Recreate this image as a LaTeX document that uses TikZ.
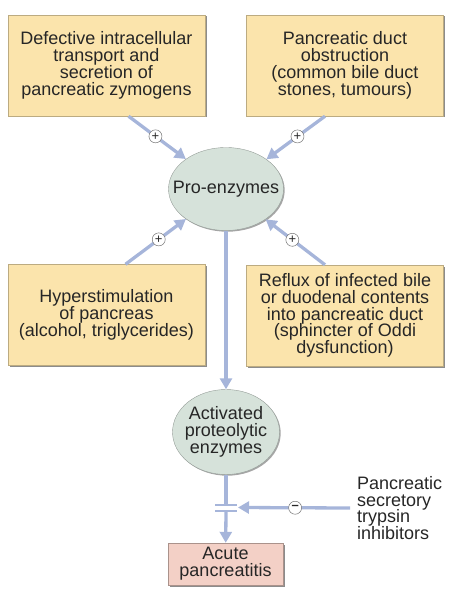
\documentclass[tikz,border=0pt]{standalone}
\usepackage{fontspec}
\setmainfont{Liberation Sans}
\usetikzlibrary{arrows.meta,shapes.geometric,shadows}
\definecolor{causefill}{RGB}{251,228,172}
\definecolor{enzymefill}{RGB}{214,226,218}
\definecolor{resultfill}{RGB}{243,208,198}
\definecolor{flow}{RGB}{166,181,218}
\begin{document}
\begin{tikzpicture}[x=1pt, y=-1pt,
	every node/.style={font=\fontsize{18}{16.8}\selectfont, align=center, text=black!85},
	cause/.style={rectangle, fill=causefill, draw=causefill!75!black, line width=0.4pt, inner sep=0pt, minimum width=197pt, minimum height=101pt, drop shadow={shadow xshift=1.5pt, shadow yshift=-1.5pt, fill=black!45, opacity=1}},
	enzyme/.style={ellipse, fill=enzymefill, draw=enzymefill!70!black, line width=0.4pt, inner sep=0pt, drop shadow={shadow xshift=1.2pt, shadow yshift=-1.2pt, fill=black!35, opacity=1}},
	result/.style={rectangle, fill=resultfill, draw=resultfill!70!black, line width=0.4pt, inner sep=0pt, minimum width=115pt, minimum height=42pt, drop shadow={shadow xshift=1.5pt, shadow yshift=-1.5pt, fill=black!45, opacity=1}},
	sign/.style={circle, draw=black!55, fill=white, line width=0.5pt, inner sep=0pt, minimum size=13pt, font=\fontsize{13}{13}\selectfont},
	flowline/.style={draw=flow, line width=3.3pt, -{Triangle[width=12pt,length=11pt]}}]

				\useasboundingbox (0,0) rectangle (474,593);

				\node[cause] (defective) at (106.5,65.5) [] {Defective intracellular\\transport and\\secretion of\\pancreatic zymogens};
				\node[cause] (obstruction) at (345,65.5) [] {Pancreatic duct\\obstruction\\(common bile duct\\stones, tumours)};
				\node[enzyme, minimum width=115pt, minimum height=83pt, inner xsep=-13pt] (pro) at (226,189) [] {Pro-enzymes};
				\node[cause] (hyper) at (106.5,315) [] {Hyperstimulation\\of pancreas\\(alcohol, triglycerides)};
				\node[cause] (reflux) at (345,315.5) [] {Reflux of infected bile\\or duodenal contents\\into pancreatic duct\\(sphincter of Oddi\\dysfunction)};
				\node[enzyme, minimum width=107pt, minimum height=85pt, inner xsep=-4pt] (active) at (226,432) [] {Activated\\proteolytic\\enzymes};
				\node[result] (acute) at (225.5,564) [] {Acute\\pancreatitis};
				\node[anchor=west, align=left, inner xsep=7pt] (inhibitor) at (350,508) [] {Pancreatic\\secretory\\trypsin\\inhibitors};

				\draw[flowline] ([xshift=22pt]defective.south) -- (pro) node[sign, pos=0.47] {+};
				\draw[flowline] ([xshift=-20pt]obstruction.south) -- (pro) node[sign, pos=0.47] {+};
				\draw[flowline] ([xshift=19pt]hyper.north) -- (pro) node[sign, pos=0.55] {+};
				\draw[flowline] ([xshift=-20pt]reflux.north) -- (pro) node[sign, pos=0.55] {+};
				\draw[flowline] (pro) -- (active);

				\coordinate (cut) at (226,507.5);
				\coordinate (cuttop) at (226,504.5);
				\coordinate (cutbot) at (226,510.5);
				\draw[flowline, -] (active) -- (cuttop);
				\draw[flowline] (cutbot) -- (acute);
				\draw[draw=flow, line width=2pt] ([xshift=-11pt]cuttop) -- ([xshift=11pt]cuttop);
				\draw[draw=flow, line width=2pt] ([xshift=-11pt]cutbot) -- ([xshift=11pt]cutbot);
				\draw[flowline] (inhibitor.west) -- ([xshift=12pt]cut) node[sign, pos=0.49] {\textbf{--}};

			\end{tikzpicture}
\end{document}
